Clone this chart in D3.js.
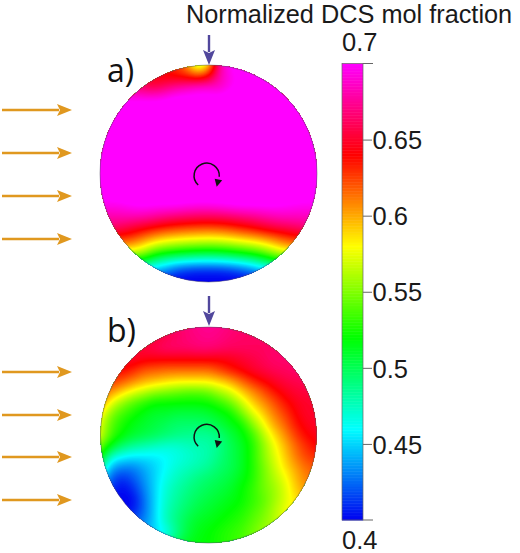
<!DOCTYPE html>
<html><head><meta charset="utf-8">
<script src="https://cdn.jsdelivr.net/npm/d3@7"></script>
<style>html,body{margin:0;padding:0;background:#fff}svg{display:block}text{font-family:"Liberation Sans",sans-serif;fill:#1a1a1a}</style>
</head><body><svg id="c" width="520" height="553"></svg>
<script>
const title = "Normalized DCS mol fraction";
const colorStops = [0.40, 0.46, 0.52, 0.58, 0.64, 0.70];
const colorNames = ["#0000f0", "#00ffff", "#00ff00", "#ffff00", "#ff0000", "#ff00ff"];
const innerTicks = [0.45, 0.5, 0.55, 0.6, 0.65];
const endTicks = [0.4, 0.7];
const flowRowsA = [110, 153, 196, 239];
const flowRowsB = [372, 415, 457, 500];
// mol fraction x 1000, on a 21 x 21 grid across each wafer
const gridA = [
[640,640,640,640,640,640,640,630,610,560,590,680,700,710,710,710,710,710,710,710,710],
[650,650,650,650,650,640,640,635,630,620,635,680,695,705,710,710,710,710,710,710,710],
[670,670,670,670,660,655,665,675,682,690,690,685,697,705,710,710,710,710,710,710,710],
[695,695,695,695,695,695,698,705,705,705,705,705,710,710,710,710,710,710,710,710,710],
[710,710,710,710,710,710,710,710,710,710,710,710,710,710,710,710,710,710,710,710,710],
[710,710,710,710,710,710,710,710,710,710,710,710,710,710,710,710,710,710,710,710,710],
[710,710,710,710,710,710,710,710,710,710,710,710,710,710,710,710,710,710,710,710,710],
[710,710,710,710,710,710,710,710,710,710,710,710,710,710,710,710,710,710,710,710,710],
[710,710,710,710,710,710,710,710,710,710,710,710,710,710,710,710,710,710,710,710,710],
[710,710,710,710,710,710,710,710,710,710,710,710,710,710,710,710,710,710,710,710,710],
[710,710,710,710,710,710,710,710,710,710,710,710,710,710,710,710,710,710,710,710,710],
[710,710,710,710,710,710,710,710,710,710,710,710,710,710,710,710,710,710,710,710,710],
[705,705,710,710,710,710,710,710,710,710,710,710,710,710,710,710,710,710,710,705,705],
[695,695,695,700,702,700,700,700,697,695,695,697,700,702,702,702,702,700,697,697,697],
[680,680,682,682,680,676,670,666,663,661,660,661,664,668,672,677,682,685,685,685,685],
[665,665,660,652,645,638,632,628,625,623,622,624,628,634,640,648,654,658,662,668,668],
[630,630,630,622,610,598,590,585,582,580,578,580,584,590,595,602,612,622,630,635,635],
[585,585,585,585,570,550,540,535,530,528,526,528,532,538,545,555,570,585,590,590,590],
[515,515,515,515,515,490,478,470,466,463,462,464,468,474,482,495,515,525,525,525,525],
[440,440,440,440,440,440,430,415,408,405,405,405,408,415,425,440,440,440,440,440,440],
[400,400,400,400,400,400,400,400,400,400,400,400,400,400,400,400,400,400,400,400,400]
];
const gridB = [
[640,640,640,640,645,650,655,662,668,672,675,672,668,665,662,660,660,660,660,660,660],
[635,635,635,640,645,650,658,663,667,670,672,670,666,664,663,662,661,660,660,660,660],
[650,650,650,650,655,660,665,665,665,668,668,665,662,662,662,662,665,665,665,665,665],
[650,650,650,650,645,643,642,642,642,642,642,642,645,650,655,660,665,665,665,665,665],
[640,640,640,632,620,618,615,615,615,615,615,625,635,642,650,655,660,662,665,665,665],
[630,630,620,610,600,595,590,585,585,585,585,590,600,615,630,640,648,655,658,660,660],
[620,605,590,575,565,555,550,545,540,540,545,560,570,590,605,620,635,645,652,655,655],
[610,575,555,540,530,520,520,520,520,520,522,530,545,565,590,605,620,635,645,650,650],
[585,550,535,525,515,510,510,505,505,505,508,515,520,545,570,590,610,625,640,650,650],
[570,540,525,515,510,505,500,495,495,495,497,505,515,520,550,575,600,615,635,645,650],
[570,535,520,510,505,500,495,490,487,485,485,490,505,515,530,560,585,605,625,640,645],
[545,515,495,485,480,475,470,470,475,478,480,488,500,510,525,550,575,595,615,630,640],
[520,470,460,455,455,455,460,465,470,475,480,490,500,510,525,550,570,590,610,625,630],
[490,440,430,430,440,450,460,470,475,480,485,495,500,510,525,545,565,585,600,615,620],
[460,420,410,420,435,450,465,475,482,490,495,500,505,515,525,545,560,575,595,610,615],
[440,410,400,410,430,450,470,480,488,495,500,505,510,520,530,545,555,570,590,605,610],
[420,400,400,400,425,450,472,483,492,500,505,510,515,520,530,540,555,570,585,595,600],
[410,400,400,405,425,450,475,487,497,505,510,515,520,525,535,545,560,575,585,590,595],
[410,400,410,420,430,450,475,490,503,512,515,520,525,530,540,550,560,575,585,590,595],
[410,410,420,430,440,450,460,485,505,515,520,525,530,535,545,555,565,575,585,590,595],
[420,420,430,440,450,460,480,500,512,518,520,525,530,535,545,555,565,575,585,590,595]
];

const svg = d3.select("#c");
const color = d3.scaleLinear().domain(colorStops).range(colorNames).clamp(true);

// Resample the read-off grid through a B-spline so that the contours come out round.
function refine(grid, k) {
  const m = (grid.length - 1) * k + 1;
  const t = d3.range(m).map(i => i / (m - 1));
  const byRow = grid.map(row => { const f = d3.interpolateBasis(row); return t.map(f); });
  const out = new Array(m * m);
  for (let j = 0; j < m; j++) {
    const f = d3.interpolateBasis(byRow.map(r => r[j]));
    t.forEach((u, i) => { out[i * m + j] = f(u) / 1000; });
  }
  return {values: out, m};
}

function wafer(id, grid, cx, cy, r, rotCx, rotCy) {
  const {values, m} = refine(grid, 4);
  const levels = d3.range(0.401, 0.7, 0.0015);
  const contours = d3.contours().size([m, m]).thresholds(levels)(values);
  const xs = d3.scaleLinear().domain([0.5, m - 0.5]).range([cx - r, cx + r]);
  const ys = d3.scaleLinear().domain([0.5, m - 0.5]).range([cy - r, cy + r]);
  const path = d3.geoPath(d3.geoTransform({point(x, y) { this.stream.point(xs(x), ys(y)); }}));
  svg.append("clipPath").attr("id", id).append("circle").attr("cx", cx).attr("cy", cy).attr("r", r);
  const g = svg.append("g").attr("clip-path", `url(#${id})`);
  g.append("rect").attr("x", cx - r).attr("y", cy - r).attr("width", 2 * r).attr("height", 2 * r).attr("fill", color(0.4));
  g.selectAll("path").data(contours).join("path").attr("d", path).attr("fill", d => color(d.value + 0.00075));
  svg.append("circle").attr("cx", cx).attr("cy", cy).attr("r", r).attr("fill", "none").attr("stroke", "#55506a").attr("stroke-width", 0.5);
  const arc = d3.arc()({innerRadius: 12.6, outerRadius: 12.6, startAngle: -2.4, endAngle: 1.65});
  svg.append("path").attr("transform", `translate(${rotCx},${rotCy})`).attr("d", arc).attr("fill", "none").attr("stroke", "#111").attr("stroke-width", 1.5);
  svg.append("path").attr("transform", `translate(${rotCx + 11},${rotCy})`)
    .attr("d", d3.line()([[-3, 3], [4.5, 4.5], [-1, 11]]) + "Z").attr("fill", "#111");
}
wafer("a", gridA, 208.5, 173.5, 108.5, 206.7, 175.7);
wafer("b", gridB, 208.5, 435, 108, 206.7, 437);

function arrow(x1, y1, x2, y2, col, w, hl, hw) {
  const ang = Math.atan2(y2 - y1, x2 - x1);
  const g = svg.append("g").attr("transform", `translate(${x2},${y2}) rotate(${ang * 180 / Math.PI})`);
  const len = Math.hypot(x2 - x1, y2 - y1);
  g.append("path").attr("d", d3.line()([[-len, 0], [-hl + 2, 0]])).attr("stroke", col).attr("stroke-width", w).attr("fill", "none");
  g.append("path").attr("d", d3.line()([[0, 0], [-hl, -hw], [-hl + 3, 0], [-hl, hw]]) + "Z").attr("fill", col);
}
flowRowsA.concat(flowRowsB).forEach(y => arrow(2, y, 72, y, "#e0981f", 2.4, 15, 6));
arrow(209, 35, 209, 65, "#51479c", 2.4, 15, 6);
arrow(209, 296, 209, 326, "#51479c", 2.4, 15, 6);

svg.append("text").attr("x", 107).attr("y", 82).attr("font-size", 32).style("font-family", "'Open Sans',sans-serif").style("fill", "#111").text("a)");
svg.append("text").attr("x", 107).attr("y", 342).attr("font-size", 32).style("font-family", "'Open Sans',sans-serif").style("fill", "#111").text("b)");

const barX = 342, barW = 21;
const yBar = d3.scaleLinear().domain([0.4, 0.7]).range([520, 63.5]);
svg.append("g").selectAll("rect").data(d3.range(0.4, 0.7, 0.001)).join("rect")
  .attr("x", barX).attr("width", barW)
  .attr("y", d => yBar(d + 0.001)).attr("height", d => yBar(d) - yBar(d + 0.001) + 0.5)
  .attr("fill", d => color(d + 0.0005));
svg.append("rect").attr("x", barX).attr("y", 63.5).attr("width", barW).attr("height", 456.5).attr("fill", "none").attr("stroke", "#666").attr("stroke-width", 0.7);

const axis = d3.axisRight(yBar).tickValues(innerTicks).tickSize(9).tickPadding(0).tickFormat(d3.format(".3~f"));
const ag = svg.append("g").attr("transform", `translate(${barX + barW},0)`).call(axis);
ag.select(".domain").remove();
ag.selectAll("line").attr("stroke", "#666");
ag.selectAll("text").attr("font-size", 25.5).attr("dy", "0.36em").attr("x", 9.5);
svg.append("g").selectAll("line").data(endTicks).join("line")
  .attr("x1", barX + barW).attr("x2", barX + barW + 10).attr("y1", d => yBar(d)).attr("y2", d => yBar(d)).attr("stroke", "#666");
svg.append("g").selectAll("text").data(endTicks).join("text")
  .attr("x", barX).attr("y", d => d === 0.7 ? 51 : 549).attr("font-size", 25.5).text(d => d);
svg.append("text").attr("x", 186).attr("y", 23).attr("font-size", 25.3).text(title);
</script></body></html>
